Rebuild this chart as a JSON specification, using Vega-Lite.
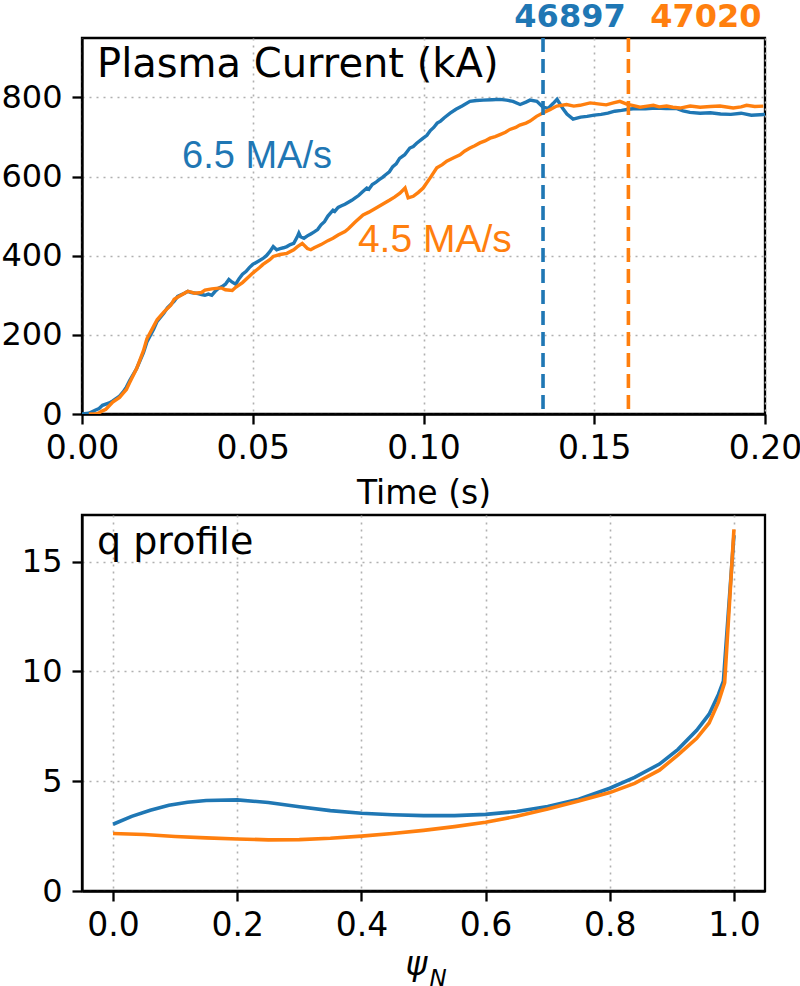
{
  "$schema": "https://vega.github.io/schema/vega-lite/v6.json",
  "background": "white",
  "padding": {"left": -1, "top": -1, "right": 5, "bottom": 5},
  "bounds": "flush",
  "spacing": 101,
  "datasets": {
    "current": [
      {"shot": "46897", "t": 0.000, "ip": 0}, {"shot": "46897", "t": 0.002, "ip": 2}, {"shot": "46897", "t": 0.004, "ip": 10},
      {"shot": "46897", "t": 0.005, "ip": 14}, {"shot": "46897", "t": 0.006, "ip": 22}, {"shot": "46897", "t": 0.008, "ip": 28},
      {"shot": "46897", "t": 0.009, "ip": 33}, {"shot": "46897", "t": 0.011, "ip": 45}, {"shot": "46897", "t": 0.012, "ip": 55},
      {"shot": "46897", "t": 0.013, "ip": 68}, {"shot": "46897", "t": 0.014, "ip": 85}, {"shot": "46897", "t": 0.016, "ip": 115},
      {"shot": "46897", "t": 0.018, "ip": 155}, {"shot": "46897", "t": 0.019, "ip": 182}, {"shot": "46897", "t": 0.021, "ip": 215},
      {"shot": "46897", "t": 0.022, "ip": 234}, {"shot": "46897", "t": 0.024, "ip": 255}, {"shot": "46897", "t": 0.025, "ip": 268},
      {"shot": "46897", "t": 0.027, "ip": 285}, {"shot": "46897", "t": 0.028, "ip": 297}, {"shot": "46897", "t": 0.030, "ip": 305},
      {"shot": "46897", "t": 0.031, "ip": 310}, {"shot": "46897", "t": 0.032, "ip": 307}, {"shot": "46897", "t": 0.034, "ip": 304},
      {"shot": "46897", "t": 0.035, "ip": 302}, {"shot": "46897", "t": 0.036, "ip": 300}, {"shot": "46897", "t": 0.037, "ip": 303},
      {"shot": "46897", "t": 0.038, "ip": 300}, {"shot": "46897", "t": 0.039, "ip": 310}, {"shot": "46897", "t": 0.040, "ip": 318},
      {"shot": "46897", "t": 0.041, "ip": 322}, {"shot": "46897", "t": 0.042, "ip": 328}, {"shot": "46897", "t": 0.043, "ip": 340},
      {"shot": "46897", "t": 0.044, "ip": 333}, {"shot": "46897", "t": 0.045, "ip": 328}, {"shot": "46897", "t": 0.046, "ip": 342},
      {"shot": "46897", "t": 0.047, "ip": 353}, {"shot": "46897", "t": 0.048, "ip": 360}, {"shot": "46897", "t": 0.049, "ip": 370},
      {"shot": "46897", "t": 0.050, "ip": 378}, {"shot": "46897", "t": 0.051, "ip": 383}, {"shot": "46897", "t": 0.052, "ip": 388},
      {"shot": "46897", "t": 0.053, "ip": 393}, {"shot": "46897", "t": 0.054, "ip": 400}, {"shot": "46897", "t": 0.055, "ip": 410},
      {"shot": "46897", "t": 0.056, "ip": 423}, {"shot": "46897", "t": 0.057, "ip": 415}, {"shot": "46897", "t": 0.058, "ip": 418},
      {"shot": "46897", "t": 0.059, "ip": 420}, {"shot": "46897", "t": 0.060, "ip": 423}, {"shot": "46897", "t": 0.061, "ip": 428},
      {"shot": "46897", "t": 0.062, "ip": 431}, {"shot": "46897", "t": 0.063, "ip": 447}, {"shot": "46897", "t": 0.0635, "ip": 457},
      {"shot": "46897", "t": 0.064, "ip": 448}, {"shot": "46897", "t": 0.065, "ip": 444}, {"shot": "46897", "t": 0.066, "ip": 450},
      {"shot": "46897", "t": 0.067, "ip": 455}, {"shot": "46897", "t": 0.068, "ip": 460}, {"shot": "46897", "t": 0.069, "ip": 466},
      {"shot": "46897", "t": 0.070, "ip": 478}, {"shot": "46897", "t": 0.071, "ip": 486}, {"shot": "46897", "t": 0.072, "ip": 500},
      {"shot": "46897", "t": 0.0735, "ip": 515}, {"shot": "46897", "t": 0.074, "ip": 512}, {"shot": "46897", "t": 0.075, "ip": 522},
      {"shot": "46897", "t": 0.076, "ip": 526}, {"shot": "46897", "t": 0.077, "ip": 530}, {"shot": "46897", "t": 0.078, "ip": 535},
      {"shot": "46897", "t": 0.079, "ip": 540}, {"shot": "46897", "t": 0.080, "ip": 546}, {"shot": "46897", "t": 0.081, "ip": 552},
      {"shot": "46897", "t": 0.082, "ip": 560}, {"shot": "46897", "t": 0.0834, "ip": 571}, {"shot": "46897", "t": 0.084, "ip": 568},
      {"shot": "46897", "t": 0.085, "ip": 580}, {"shot": "46897", "t": 0.086, "ip": 585}, {"shot": "46897", "t": 0.087, "ip": 592},
      {"shot": "46897", "t": 0.088, "ip": 598}, {"shot": "46897", "t": 0.089, "ip": 605}, {"shot": "46897", "t": 0.090, "ip": 612},
      {"shot": "46897", "t": 0.091, "ip": 625}, {"shot": "46897", "t": 0.092, "ip": 632}, {"shot": "46897", "t": 0.093, "ip": 646},
      {"shot": "46897", "t": 0.0945, "ip": 655}, {"shot": "46897", "t": 0.096, "ip": 672}, {"shot": "46897", "t": 0.097, "ip": 676},
      {"shot": "46897", "t": 0.098, "ip": 684}, {"shot": "46897", "t": 0.0999, "ip": 697}, {"shot": "46897", "t": 0.101, "ip": 704},
      {"shot": "46897", "t": 0.102, "ip": 716}, {"shot": "46897", "t": 0.103, "ip": 724}, {"shot": "46897", "t": 0.104, "ip": 735},
      {"shot": "46897", "t": 0.105, "ip": 740}, {"shot": "46897", "t": 0.106, "ip": 748}, {"shot": "46897", "t": 0.1078, "ip": 760},
      {"shot": "46897", "t": 0.1095, "ip": 770}, {"shot": "46897", "t": 0.1113, "ip": 778}, {"shot": "46897", "t": 0.1136, "ip": 790},
      {"shot": "46897", "t": 0.1155, "ip": 792}, {"shot": "46897", "t": 0.1175, "ip": 793}, {"shot": "46897", "t": 0.120, "ip": 794},
      {"shot": "46897", "t": 0.1224, "ip": 795}, {"shot": "46897", "t": 0.1243, "ip": 793}, {"shot": "46897", "t": 0.1262, "ip": 790},
      {"shot": "46897", "t": 0.1283, "ip": 782}, {"shot": "46897", "t": 0.130, "ip": 788}, {"shot": "46897", "t": 0.1312, "ip": 793},
      {"shot": "46897", "t": 0.1332, "ip": 790}, {"shot": "46897", "t": 0.135, "ip": 775}, {"shot": "46897", "t": 0.1365, "ip": 772},
      {"shot": "46897", "t": 0.138, "ip": 785}, {"shot": "46897", "t": 0.1391, "ip": 795}, {"shot": "46897", "t": 0.1408, "ip": 772},
      {"shot": "46897", "t": 0.142, "ip": 758}, {"shot": "46897", "t": 0.1438, "ip": 745}, {"shot": "46897", "t": 0.146, "ip": 750},
      {"shot": "46897", "t": 0.1479, "ip": 752}, {"shot": "46897", "t": 0.150, "ip": 755}, {"shot": "46897", "t": 0.152, "ip": 757},
      {"shot": "46897", "t": 0.154, "ip": 760}, {"shot": "46897", "t": 0.156, "ip": 765}, {"shot": "46897", "t": 0.158, "ip": 767},
      {"shot": "46897", "t": 0.160, "ip": 770}, {"shot": "46897", "t": 0.162, "ip": 772}, {"shot": "46897", "t": 0.165, "ip": 771},
      {"shot": "46897", "t": 0.168, "ip": 773}, {"shot": "46897", "t": 0.171, "ip": 772}, {"shot": "46897", "t": 0.174, "ip": 772},
      {"shot": "46897", "t": 0.176, "ip": 766}, {"shot": "46897", "t": 0.178, "ip": 762}, {"shot": "46897", "t": 0.181, "ip": 760},
      {"shot": "46897", "t": 0.184, "ip": 761}, {"shot": "46897", "t": 0.187, "ip": 758}, {"shot": "46897", "t": 0.190, "ip": 757},
      {"shot": "46897", "t": 0.193, "ip": 760}, {"shot": "46897", "t": 0.196, "ip": 755}, {"shot": "46897", "t": 0.200, "ip": 757},

      {"shot": "47020", "t": 0.002, "ip": 0}, {"shot": "47020", "t": 0.004, "ip": 0}, {"shot": "47020", "t": 0.005, "ip": 3},
      {"shot": "47020", "t": 0.006, "ip": 8}, {"shot": "47020", "t": 0.007, "ip": 12}, {"shot": "47020", "t": 0.009, "ip": 30},
      {"shot": "47020", "t": 0.011, "ip": 42}, {"shot": "47020", "t": 0.012, "ip": 52}, {"shot": "47020", "t": 0.013, "ip": 62},
      {"shot": "47020", "t": 0.014, "ip": 80}, {"shot": "47020", "t": 0.016, "ip": 115}, {"shot": "47020", "t": 0.018, "ip": 160},
      {"shot": "47020", "t": 0.019, "ip": 190}, {"shot": "47020", "t": 0.021, "ip": 222}, {"shot": "47020", "t": 0.022, "ip": 238},
      {"shot": "47020", "t": 0.024, "ip": 258}, {"shot": "47020", "t": 0.026, "ip": 275}, {"shot": "47020", "t": 0.027, "ip": 290},
      {"shot": "47020", "t": 0.029, "ip": 300}, {"shot": "47020", "t": 0.030, "ip": 305}, {"shot": "47020", "t": 0.031, "ip": 310},
      {"shot": "47020", "t": 0.032, "ip": 308}, {"shot": "47020", "t": 0.033, "ip": 305}, {"shot": "47020", "t": 0.035, "ip": 307},
      {"shot": "47020", "t": 0.036, "ip": 313}, {"shot": "47020", "t": 0.038, "ip": 316}, {"shot": "47020", "t": 0.040, "ip": 318},
      {"shot": "47020", "t": 0.041, "ip": 318}, {"shot": "47020", "t": 0.042, "ip": 314}, {"shot": "47020", "t": 0.044, "ip": 312},
      {"shot": "47020", "t": 0.045, "ip": 320}, {"shot": "47020", "t": 0.047, "ip": 332}, {"shot": "47020", "t": 0.049, "ip": 348},
      {"shot": "47020", "t": 0.050, "ip": 356}, {"shot": "47020", "t": 0.052, "ip": 370}, {"shot": "47020", "t": 0.053, "ip": 378},
      {"shot": "47020", "t": 0.055, "ip": 390}, {"shot": "47020", "t": 0.056, "ip": 398}, {"shot": "47020", "t": 0.058, "ip": 403},
      {"shot": "47020", "t": 0.060, "ip": 406}, {"shot": "47020", "t": 0.062, "ip": 415}, {"shot": "47020", "t": 0.063, "ip": 422},
      {"shot": "47020", "t": 0.0645, "ip": 431}, {"shot": "47020", "t": 0.066, "ip": 418}, {"shot": "47020", "t": 0.067, "ip": 415},
      {"shot": "47020", "t": 0.068, "ip": 420}, {"shot": "47020", "t": 0.070, "ip": 428}, {"shot": "47020", "t": 0.072, "ip": 438},
      {"shot": "47020", "t": 0.0735, "ip": 444}, {"shot": "47020", "t": 0.075, "ip": 452}, {"shot": "47020", "t": 0.077, "ip": 461},
      {"shot": "47020", "t": 0.078, "ip": 468}, {"shot": "47020", "t": 0.080, "ip": 485}, {"shot": "47020", "t": 0.0823, "ip": 503},
      {"shot": "47020", "t": 0.084, "ip": 510}, {"shot": "47020", "t": 0.086, "ip": 520}, {"shot": "47020", "t": 0.088, "ip": 530},
      {"shot": "47020", "t": 0.090, "ip": 540}, {"shot": "47020", "t": 0.0915, "ip": 548}, {"shot": "47020", "t": 0.0931, "ip": 558},
      {"shot": "47020", "t": 0.0946, "ip": 571}, {"shot": "47020", "t": 0.0955, "ip": 546}, {"shot": "47020", "t": 0.097, "ip": 550},
      {"shot": "47020", "t": 0.0985, "ip": 560}, {"shot": "47020", "t": 0.0999, "ip": 571}, {"shot": "47020", "t": 0.1019, "ip": 596},
      {"shot": "47020", "t": 0.1039, "ip": 622}, {"shot": "47020", "t": 0.1055, "ip": 630}, {"shot": "47020", "t": 0.1068, "ip": 639},
      {"shot": "47020", "t": 0.109, "ip": 648}, {"shot": "47020", "t": 0.1107, "ip": 655}, {"shot": "47020", "t": 0.112, "ip": 664},
      {"shot": "47020", "t": 0.1136, "ip": 672}, {"shot": "47020", "t": 0.115, "ip": 678}, {"shot": "47020", "t": 0.1165, "ip": 685},
      {"shot": "47020", "t": 0.118, "ip": 690}, {"shot": "47020", "t": 0.1195, "ip": 697}, {"shot": "47020", "t": 0.121, "ip": 701},
      {"shot": "47020", "t": 0.1224, "ip": 706}, {"shot": "47020", "t": 0.124, "ip": 712}, {"shot": "47020", "t": 0.1253, "ip": 719},
      {"shot": "47020", "t": 0.127, "ip": 724}, {"shot": "47020", "t": 0.1282, "ip": 730}, {"shot": "47020", "t": 0.130, "ip": 735},
      {"shot": "47020", "t": 0.1312, "ip": 740}, {"shot": "47020", "t": 0.1331, "ip": 752}, {"shot": "47020", "t": 0.1351, "ip": 761},
      {"shot": "47020", "t": 0.137, "ip": 769}, {"shot": "47020", "t": 0.139, "ip": 778}, {"shot": "47020", "t": 0.1419, "ip": 782},
      {"shot": "47020", "t": 0.144, "ip": 778}, {"shot": "47020", "t": 0.1458, "ip": 780}, {"shot": "47020", "t": 0.1488, "ip": 786},
      {"shot": "47020", "t": 0.1517, "ip": 783}, {"shot": "47020", "t": 0.1535, "ip": 781}, {"shot": "47020", "t": 0.1556, "ip": 786},
      {"shot": "47020", "t": 0.1575, "ip": 790}, {"shot": "47020", "t": 0.1595, "ip": 783}, {"shot": "47020", "t": 0.1615, "ip": 779},
      {"shot": "47020", "t": 0.1634, "ip": 775}, {"shot": "47020", "t": 0.1655, "ip": 778}, {"shot": "47020", "t": 0.1673, "ip": 780},
      {"shot": "47020", "t": 0.169, "ip": 776}, {"shot": "47020", "t": 0.1712, "ip": 778}, {"shot": "47020", "t": 0.173, "ip": 775},
      {"shot": "47020", "t": 0.1751, "ip": 773}, {"shot": "47020", "t": 0.1781, "ip": 778}, {"shot": "47020", "t": 0.181, "ip": 775},
      {"shot": "47020", "t": 0.184, "ip": 777}, {"shot": "47020", "t": 0.1868, "ip": 778}, {"shot": "47020", "t": 0.1907, "ip": 773},
      {"shot": "47020", "t": 0.193, "ip": 776}, {"shot": "47020", "t": 0.1946, "ip": 780}, {"shot": "47020", "t": 0.197, "ip": 777},
      {"shot": "47020", "t": 0.1995, "ip": 778}
    ],
    "shots": [
      {"shot": "46897", "t_end": 0.135},
      {"shot": "47020", "t_end": 0.16}
    ],
    "qprof": [
      {"shot": "46897", "psi": 0.00, "q": 3.04}, {"shot": "46897", "psi": 0.03, "q": 3.40}, {"shot": "46897", "psi": 0.06, "q": 3.68},
      {"shot": "46897", "psi": 0.09, "q": 3.90}, {"shot": "46897", "psi": 0.12, "q": 4.04}, {"shot": "46897", "psi": 0.15, "q": 4.12},
      {"shot": "46897", "psi": 0.20, "q": 4.15}, {"shot": "46897", "psi": 0.25, "q": 4.03}, {"shot": "46897", "psi": 0.30, "q": 3.84},
      {"shot": "46897", "psi": 0.35, "q": 3.66}, {"shot": "46897", "psi": 0.40, "q": 3.54}, {"shot": "46897", "psi": 0.45, "q": 3.47},
      {"shot": "46897", "psi": 0.50, "q": 3.43}, {"shot": "46897", "psi": 0.55, "q": 3.43}, {"shot": "46897", "psi": 0.60, "q": 3.49},
      {"shot": "46897", "psi": 0.65, "q": 3.62}, {"shot": "46897", "psi": 0.70, "q": 3.85}, {"shot": "46897", "psi": 0.75, "q": 4.18},
      {"shot": "46897", "psi": 0.80, "q": 4.68}, {"shot": "46897", "psi": 0.84, "q": 5.17}, {"shot": "46897", "psi": 0.88, "q": 5.78},
      {"shot": "46897", "psi": 0.91, "q": 6.45}, {"shot": "46897", "psi": 0.94, "q": 7.32}, {"shot": "46897", "psi": 0.96, "q": 8.05},
      {"shot": "46897", "psi": 0.975, "q": 8.95}, {"shot": "46897", "psi": 0.983, "q": 9.56}, {"shot": "46897", "psi": 1.00, "q": 16.2},
      {"shot": "47020", "psi": 0.00, "q": 2.62}, {"shot": "47020", "psi": 0.05, "q": 2.57}, {"shot": "47020", "psi": 0.10, "q": 2.48},
      {"shot": "47020", "psi": 0.15, "q": 2.42}, {"shot": "47020", "psi": 0.20, "q": 2.37}, {"shot": "47020", "psi": 0.25, "q": 2.33},
      {"shot": "47020", "psi": 0.30, "q": 2.34}, {"shot": "47020", "psi": 0.35, "q": 2.40}, {"shot": "47020", "psi": 0.40, "q": 2.50},
      {"shot": "47020", "psi": 0.45, "q": 2.62}, {"shot": "47020", "psi": 0.50, "q": 2.76}, {"shot": "47020", "psi": 0.55, "q": 2.93},
      {"shot": "47020", "psi": 0.60, "q": 3.13}, {"shot": "47020", "psi": 0.65, "q": 3.40}, {"shot": "47020", "psi": 0.70, "q": 3.73},
      {"shot": "47020", "psi": 0.75, "q": 4.10}, {"shot": "47020", "psi": 0.80, "q": 4.48}, {"shot": "47020", "psi": 0.84, "q": 4.90},
      {"shot": "47020", "psi": 0.88, "q": 5.50}, {"shot": "47020", "psi": 0.91, "q": 6.20}, {"shot": "47020", "psi": 0.94, "q": 6.95},
      {"shot": "47020", "psi": 0.96, "q": 7.65}, {"shot": "47020", "psi": 0.975, "q": 8.60}, {"shot": "47020", "psi": 0.985, "q": 9.49},
      {"shot": "47020", "psi": 1.00, "q": 16.47}
    ]
  },
  "vconcat": [
    {
      "width": 683,
      "height": 376,
      "layer": [
        {
          "data": {"name": "current"},
          "mark": {"type": "line", "strokeWidth": 3.4, "clip": true},
          "encoding": {
            "x": {"field": "t", "type": "quantitative",
                  "scale": {"domain": [0, 0.2], "nice": false, "zero": false},
                  "axis": {"title": "Time (s)", "values": [0, 0.05, 0.1, 0.15, 0.2], "format": ".2f"}},
            "y": {"field": "ip", "type": "quantitative",
                  "scale": {"domain": [0, 950], "nice": false},
                  "axis": {"title": null, "values": [0, 200, 400, 600, 800], "format": "d"}},
            "color": {"field": "shot", "type": "nominal",
                      "scale": {"domain": ["46897", "47020"], "range": ["#1f77b4", "#ff7f0e"]},
                      "legend": null}
          }
        },
        {
          "data": {"name": "shots"},
          "mark": {"type": "rule", "strokeDash": [14, 7], "strokeWidth": 3.6},
          "encoding": {
            "x": {"field": "t_end", "type": "quantitative"},
            "color": {"field": "shot", "type": "nominal"}
          }
        },
        {
          "data": {"values": [{}]},
          "mark": {"type": "text", "text": "Plasma Current (kA)", "font": "DejaVu Sans", "fontSize": 40, "align": "left", "baseline": "alphabetic", "color": "black"},
          "encoding": {"x": {"datum": 0.0044}, "y": {"datum": 851}}
        },
        {
          "data": {"values": [{}]},
          "mark": {"type": "text", "text": "6.5 MA/s", "font": "Liberation Sans", "fontSize": 38, "align": "left", "baseline": "alphabetic", "color": "#1f77b4"},
          "encoding": {"x": {"datum": 0.0293}, "y": {"datum": 621}}
        },
        {
          "data": {"values": [{}]},
          "mark": {"type": "text", "text": "4.5 MA/s", "font": "Liberation Sans", "fontSize": 39, "align": "left", "baseline": "alphabetic", "color": "#ff7f0e"},
          "encoding": {"x": {"datum": 0.0808}, "y": {"datum": 409}}
        },
        {
          "data": {"values": [{}]},
          "mark": {"type": "text", "text": "46897", "font": "DejaVu Sans", "fontWeight": "bold", "fontSize": 32, "align": "center", "baseline": "alphabetic", "color": "#1f77b4"},
          "encoding": {"x": {"datum": 0.1429}, "y": {"datum": 978}}
        },
        {
          "data": {"values": [{}]},
          "mark": {"type": "text", "text": "47020", "font": "DejaVu Sans", "fontWeight": "bold", "fontSize": 32, "align": "center", "baseline": "alphabetic", "color": "#ff7f0e"},
          "encoding": {"x": {"datum": 0.1827}, "y": {"datum": 978}}
        }
      ]
    },
    {
      "width": 683,
      "height": 376,
      "layer": [
        {
          "data": {"name": "qprof"},
          "mark": {"type": "line", "strokeWidth": 3.6, "clip": true},
          "encoding": {
            "x": {"field": "psi", "type": "quantitative",
                  "scale": {"domain": [-0.05, 1.05], "nice": false, "zero": false},
                  "axis": {"title": "ψ", "titleFontStyle": "italic", "titleX": 334, "titleAlign": "center", "titlePadding": 6,
                           "values": [0, 0.2, 0.4, 0.6, 0.8, 1.0], "format": ".1f"}},
            "y": {"field": "q", "type": "quantitative",
                  "scale": {"domain": [0, 17.12], "nice": false},
                  "axis": {"title": null, "values": [0, 5, 10, 15], "format": "d"}},
            "color": {"field": "shot", "type": "nominal",
                      "scale": {"domain": ["46897", "47020"], "range": ["#1f77b4", "#ff7f0e"]},
                      "legend": null}
          }
        },
        {
          "data": {"values": [{}]},
          "mark": {"type": "text", "text": "q profile", "font": "DejaVu Sans", "fontSize": 38, "align": "left", "baseline": "alphabetic", "color": "black"},
          "encoding": {"x": {"datum": -0.0258}, "y": {"datum": 15.35}}
        },
        {
          "data": {"values": [{}]},
          "mark": {"type": "text", "text": "N", "font": "DejaVu Sans", "fontStyle": "italic", "fontSize": 23, "align": "left", "baseline": "alphabetic", "color": "black"},
          "encoding": {"x": {"datum": 0.5097}, "y": {"datum": -4.33}}
        }
      ]
    }
  ],
  "config": {
    "font": "DejaVu Sans",
    "view": {"stroke": "black", "strokeWidth": 2.3},
    "axis": {
      "domainColor": "black",
      "domainWidth": 2.3,
      "tickColor": "black",
      "tickWidth": 2.3,
      "tickSize": 10,
      "labelFont": "DejaVu Sans",
      "labelFontSize": 33,
      "labelColor": "black",
      "labelFlush": false,
      "labelOverlap": false,
      "labelBound": false,
      "titleFont": "DejaVu Sans",
      "titleFontSize": 33,
      "titleFontWeight": "normal",
      "titleColor": "black",
      "grid": true,
      "gridColor": "#b0b0b0",
      "gridDash": [2, 5],
      "gridWidth": 1.6
    },
    "axisX": {"labelPadding": 8, "titlePadding": 12},
    "axisY": {"labelPadding": 10, "labelFontSize": 32}
  }
}
